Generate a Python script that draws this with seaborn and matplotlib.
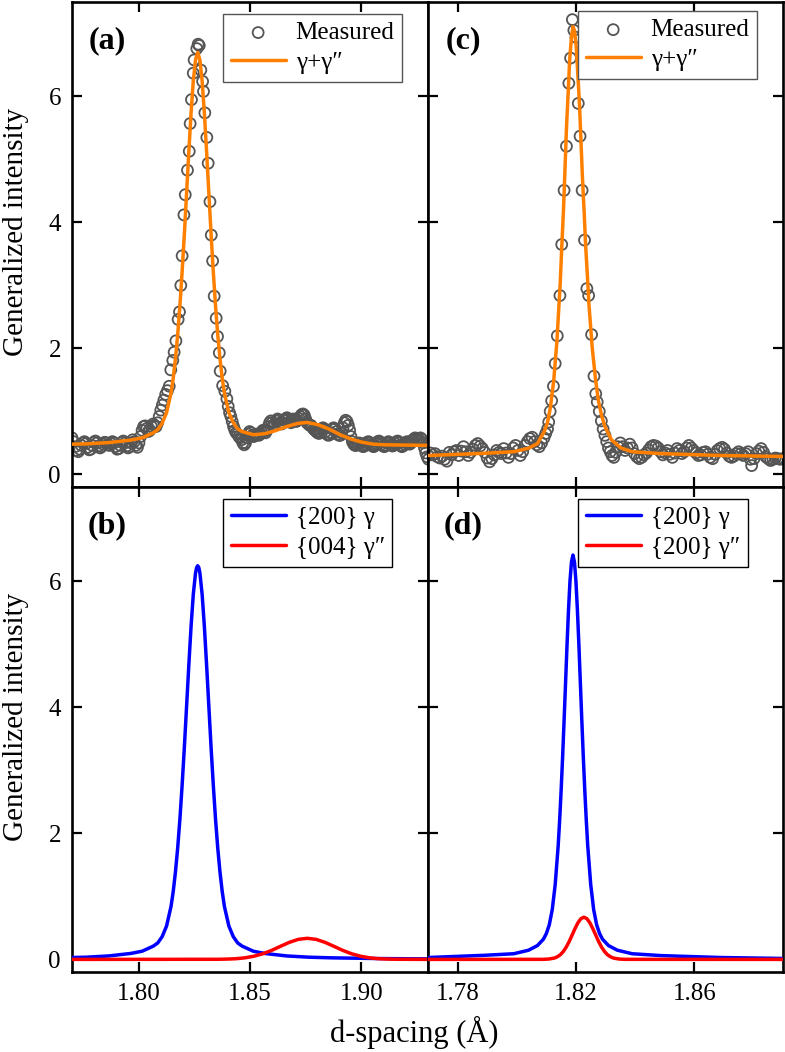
import matplotlib
matplotlib.use('Agg')
import matplotlib.pyplot as plt
import seaborn as sns
from matplotlib.ticker import FormatStrFormatter

# ---------------- data ----------------
# panel (a): measured points and gamma+gamma'' fit
a_meas_d = [1.7700, 1.7707, 1.7714, 1.7721, 1.7728, 1.7735, 1.7742, 1.7749, 1.7756, 1.7763,
            1.7770, 1.7777, 1.7784, 1.7791, 1.7798, 1.7805, 1.7812, 1.7819, 1.7826, 1.7833,
            1.7840, 1.7847, 1.7854, 1.7861, 1.7868, 1.7875, 1.7882, 1.7889, 1.7896, 1.7903,
            1.7910, 1.7917, 1.7924, 1.7931, 1.7938, 1.7945, 1.7952, 1.7959, 1.7966, 1.7973,
            1.7980, 1.7987, 1.7994,
            1.8001, 1.8008, 1.8015, 1.8022, 1.8029, 1.8036, 1.8043, 1.8050, 1.8057, 1.8064,
            1.8071, 1.8078, 1.8085, 1.8092, 1.8099, 1.8106, 1.8113, 1.8121, 1.8129, 1.8137,
            1.8144, 1.8153, 1.8159, 1.8167, 1.8177, 1.8183, 1.8189, 1.8195, 1.8203, 1.8209,
            1.8219, 1.8227, 1.8231, 1.8237, 1.8245, 1.8249, 1.8261, 1.8267, 1.8272, 1.8279,
            1.8287, 1.8291, 1.8297, 1.8306, 1.8312, 1.8320, 1.8326, 1.8332, 1.8339, 1.8348,
            1.8354, 1.8362, 1.8366, 1.8377, 1.8387, 1.8396,
            1.8402, 1.8408, 1.8414, 1.8420, 1.8426, 1.8432, 1.8438, 1.8444, 1.8450, 1.8456,
            1.8462, 1.8468, 1.8474, 1.8480, 1.8486, 1.8492, 1.8498, 1.8504, 1.8510, 1.8516,
            1.8522, 1.8528, 1.8534, 1.8540, 1.8546, 1.8552, 1.8558, 1.8564, 1.8570, 1.8576,
            1.8582, 1.8588, 1.8594, 1.8600, 1.8606, 1.8612, 1.8618, 1.8624, 1.8630, 1.8636,
            1.8642, 1.8648, 1.8654, 1.8660, 1.8666, 1.8672, 1.8678, 1.8684, 1.8690, 1.8696,
            1.8702, 1.8708, 1.8714, 1.8720, 1.8726, 1.8732, 1.8738, 1.8744, 1.8750, 1.8756,
            1.8762, 1.8768, 1.8774, 1.8780, 1.8786, 1.8792, 1.8798, 1.8804, 1.8810, 1.8816,
            1.8822, 1.8828, 1.8834, 1.8840, 1.8846, 1.8852, 1.8858, 1.8864, 1.8870, 1.8876,
            1.8882, 1.8888, 1.8894, 1.8900, 1.8906, 1.8912, 1.8918, 1.8924, 1.8930, 1.8936,
            1.8942, 1.8948, 1.8954, 1.8960, 1.8966, 1.8972, 1.8978, 1.8984, 1.8990, 1.8996,
            1.9002, 1.9008, 1.9014, 1.9020, 1.9026, 1.9032, 1.9038, 1.9044, 1.9050, 1.9056,
            1.9062, 1.9068, 1.9074, 1.9080, 1.9086, 1.9092, 1.9098, 1.9104, 1.9110, 1.9116,
            1.9122, 1.9128, 1.9134, 1.9140, 1.9146, 1.9152, 1.9158, 1.9164, 1.9170, 1.9176,
            1.9182, 1.9188, 1.9194, 1.9200, 1.9206, 1.9212, 1.9218, 1.9224, 1.9230, 1.9236,
            1.9242, 1.9248, 1.9254, 1.9260, 1.9266, 1.9272, 1.9278, 1.9284, 1.9290, 1.9296,
            1.9302]
a_meas_i = [0.58, 0.52, 0.44, 0.38, 0.36, 0.40, 0.46, 0.50, 0.52, 0.49,
            0.43, 0.39, 0.40, 0.46, 0.51, 0.53, 0.50, 0.45, 0.42, 0.44,
            0.48, 0.51, 0.50, 0.47, 0.46, 0.49, 0.52, 0.50, 0.44, 0.40,
            0.41, 0.46, 0.51, 0.53, 0.50, 0.45, 0.42, 0.44, 0.50, 0.55,
            0.52, 0.46, 0.43,
            0.50, 0.60, 0.70, 0.76, 0.77, 0.73, 0.68, 0.70, 0.76, 0.80,
            0.78, 0.76, 0.82, 0.92, 1.02, 1.10, 1.18, 1.27, 1.33, 1.40,
            1.66, 1.81, 1.94, 2.12, 2.46, 2.58, 3.00, 3.47, 4.12, 4.44,
            4.83, 5.13, 5.57, 5.95, 6.37, 6.58, 6.76, 6.83, 6.81, 6.42,
            6.24, 6.08, 5.74, 5.35, 4.94, 4.33, 3.80, 3.39, 2.83, 2.48,
            2.19, 1.93, 1.64, 1.41, 1.32, 1.20,
            1.08, 0.98, 0.92, 0.84, 0.76, 0.70, 0.66, 0.64, 0.60, 0.58,
            0.55, 0.50, 0.47, 0.50, 0.58, 0.64, 0.68, 0.66, 0.62, 0.60,
            0.62, 0.64, 0.63, 0.62, 0.64, 0.67, 0.70, 0.68, 0.66, 0.70,
            0.76, 0.82, 0.85, 0.82, 0.78, 0.80, 0.85, 0.88, 0.86, 0.82,
            0.80, 0.82, 0.86, 0.88, 0.90, 0.88, 0.84, 0.82, 0.84, 0.88,
            0.86, 0.84, 0.86, 0.89, 0.92, 0.95, 0.96, 0.94, 0.88, 0.82,
            0.80, 0.78, 0.78, 0.75, 0.72, 0.70, 0.68, 0.66, 0.65, 0.68,
            0.72, 0.74, 0.72, 0.68, 0.64, 0.62, 0.63, 0.66, 0.72, 0.74,
            0.72, 0.68, 0.64, 0.62, 0.62, 0.66, 0.74, 0.82, 0.86, 0.84,
            0.78, 0.70, 0.60, 0.52, 0.48, 0.46, 0.46, 0.48, 0.50, 0.49,
            0.46, 0.44, 0.45, 0.48, 0.51, 0.52, 0.50, 0.47, 0.45, 0.44,
            0.46, 0.49, 0.52, 0.53, 0.51, 0.48, 0.45, 0.44, 0.46, 0.50,
            0.52, 0.50, 0.47, 0.45, 0.46, 0.49, 0.52, 0.53, 0.50, 0.46,
            0.44, 0.45, 0.48, 0.51, 0.52, 0.50, 0.48, 0.50, 0.54, 0.56,
            0.58, 0.56, 0.54, 0.55, 0.58, 0.56, 0.50, 0.42, 0.34, 0.28,
            0.24]

a_fit_d = [1.7700, 1.7765, 1.7865, 1.7965, 1.8015, 1.8065, 1.8085, 1.8105, 1.8125, 1.8145,
           1.8155, 1.8165, 1.8175, 1.8185, 1.8195, 1.8205, 1.8215, 1.8225, 1.8235, 1.8245,
           1.8255, 1.8265, 1.8275, 1.8285, 1.8295, 1.8305, 1.8315, 1.8325, 1.8335, 1.8345,
           1.8355, 1.8365, 1.8375, 1.8385, 1.8405, 1.8425, 1.8445, 1.8465, 1.8515, 1.8565,
           1.8615, 1.8665, 1.8715, 1.8757, 1.8805, 1.8855, 1.8905, 1.8955, 1.9005, 1.9055,
           1.9105, 1.9305]
a_fit_i = [0.48, 0.485, 0.505, 0.545, 0.58, 0.66, 0.71, 0.81, 0.98, 1.29,
           1.53, 1.84, 2.22, 2.68, 3.22, 3.82, 4.47, 5.12, 5.73, 6.24,
           6.58, 6.70, 6.58, 6.24, 5.73, 5.12, 4.47, 3.82, 3.22, 2.68,
           2.22, 1.84, 1.53, 1.29, 0.98, 0.82, 0.72, 0.68, 0.63, 0.645,
           0.695, 0.76, 0.81, 0.825, 0.79, 0.72, 0.63, 0.56, 0.51, 0.48,
           0.47, 0.46]

# panel (b): {200} gamma and {004} gamma'' components
b_gam_d = [1.7700, 1.7765, 1.7865, 1.7965, 1.8015, 1.8065, 1.8085, 1.8105, 1.8125, 1.8145,
           1.8155, 1.8165, 1.8175, 1.8185, 1.8195, 1.8205, 1.8215, 1.8225, 1.8235, 1.8245,
           1.8255, 1.8260, 1.8265, 1.8270, 1.8275, 1.8285, 1.8295, 1.8305, 1.8315, 1.8325,
           1.8335, 1.8345, 1.8355, 1.8365, 1.8375, 1.8385, 1.8405, 1.8425, 1.8445, 1.8465,
           1.8515, 1.8565, 1.8665, 1.8765, 1.8865, 1.9065, 1.9305]
b_gam_i = [0.03, 0.035, 0.055, 0.095, 0.13, 0.21, 0.26, 0.36, 0.53, 0.84,
           1.08, 1.39, 1.77, 2.23, 2.77, 3.37, 4.02, 4.67, 5.28, 5.79,
           6.13, 6.22, 6.25, 6.22, 6.13, 5.79, 5.28, 4.67, 4.02, 3.37,
           2.77, 2.23, 1.77, 1.39, 1.08, 0.84, 0.53, 0.36, 0.26, 0.21,
           0.13, 0.095, 0.055, 0.035, 0.025, 0.014, 0.008]
b_gpp_d = [1.7700, 1.8357, 1.8397, 1.8437, 1.8477, 1.8517, 1.8557, 1.8597, 1.8637, 1.8677,
           1.8717, 1.8757, 1.8797, 1.8837, 1.8877, 1.8917, 1.8957, 1.8997, 1.9037, 1.9077,
           1.9117, 1.9157, 1.9305]
b_gpp_i = [0.0, 0.002, 0.005, 0.011, 0.025, 0.050, 0.089, 0.143, 0.208, 0.271,
           0.318, 0.335, 0.318, 0.271, 0.208, 0.143, 0.089, 0.050, 0.025, 0.011,
           0.005, 0.002, 0.0]

# panel (c): measured points and gamma+gamma'' fit
c_meas_d = [1.7700, 1.7708, 1.7716, 1.7724, 1.7732, 1.7740, 1.7748, 1.7756, 1.7764, 1.7772,
            1.7780, 1.7788, 1.7796, 1.7804, 1.7812, 1.7820, 1.7828, 1.7836, 1.7844, 1.7852,
            1.7860, 1.7868, 1.7876, 1.7884, 1.7892, 1.7900, 1.7908, 1.7916, 1.7924, 1.7932,
            1.7940, 1.7948, 1.7956, 1.7964, 1.7972, 1.7980, 1.7988, 1.7996, 1.8004, 1.8012,
            1.8020, 1.8028, 1.8036, 1.8044, 1.8052, 1.8060, 1.8068, 1.8076, 1.8084, 1.8092,
            1.8098, 1.8104, 1.8108,
            1.8113, 1.8118, 1.8124, 1.8130, 1.8137, 1.8146, 1.8152, 1.8160, 1.8168, 1.8176,
            1.8182, 1.8188, 1.8193, 1.8200, 1.8208, 1.8214, 1.8221, 1.8229, 1.8237, 1.8243,
            1.8253, 1.8261, 1.8267, 1.8272, 1.8279,
            1.8286, 1.8292, 1.8298, 1.8304, 1.8310, 1.8316, 1.8322, 1.8328, 1.8334, 1.8342,
            1.8350, 1.8358, 1.8366, 1.8374, 1.8382, 1.8390, 1.8398, 1.8406, 1.8414, 1.8422,
            1.8430, 1.8438, 1.8446, 1.8454, 1.8462, 1.8470, 1.8478, 1.8486, 1.8494, 1.8502,
            1.8510, 1.8518, 1.8526, 1.8534, 1.8542, 1.8550, 1.8558, 1.8566, 1.8574, 1.8582,
            1.8590, 1.8598, 1.8606, 1.8614, 1.8622, 1.8630, 1.8638, 1.8646, 1.8654, 1.8662,
            1.8670, 1.8678, 1.8686, 1.8694, 1.8702, 1.8710, 1.8718, 1.8726, 1.8734, 1.8742,
            1.8750, 1.8758, 1.8766, 1.8774, 1.8782, 1.8790, 1.8794, 1.8802, 1.8810, 1.8818,
            1.8826, 1.8834, 1.8842, 1.8850, 1.8858, 1.8866, 1.8874, 1.8882, 1.8890, 1.8898]
c_meas_i = [0.30, 0.34, 0.31, 0.33, 0.28, 0.26, 0.29, 0.24, 0.21, 0.35,
            0.31, 0.36, 0.38, 0.30, 0.37, 0.44, 0.36, 0.30, 0.35, 0.40,
            0.46, 0.49, 0.45, 0.41, 0.35, 0.26, 0.20, 0.25, 0.31, 0.38,
            0.35, 0.33, 0.41, 0.34, 0.27, 0.33, 0.42, 0.46, 0.38, 0.30,
            0.36, 0.46, 0.52, 0.57, 0.59, 0.52, 0.47, 0.44, 0.50, 0.58,
            0.65, 0.72, 0.83,
            1.00, 1.17, 1.40, 1.76, 2.20, 2.84, 3.65, 4.51, 5.21, 6.21,
            6.61, 7.22, 7.05, 6.94, 5.89, 5.37, 4.51, 3.72, 2.95, 2.84,
            2.22, 1.56, 1.28, 1.15, 1.00,
            0.85, 0.72, 0.62, 0.52, 0.42, 0.36, 0.30, 0.27, 0.35, 0.44,
            0.50, 0.44, 0.38, 0.42, 0.48, 0.42, 0.33, 0.28, 0.25, 0.27,
            0.31, 0.34, 0.39, 0.44, 0.46, 0.45, 0.42, 0.36, 0.31, 0.34,
            0.38, 0.32, 0.27, 0.34, 0.41, 0.38, 0.33, 0.36, 0.42, 0.46,
            0.42, 0.38, 0.34, 0.30, 0.31, 0.35, 0.36, 0.32, 0.27, 0.25,
            0.32, 0.38, 0.41, 0.43, 0.40, 0.34, 0.29, 0.27, 0.29, 0.33,
            0.36, 0.33, 0.30, 0.33, 0.36, 0.24, 0.14, 0.25, 0.33, 0.37,
            0.41, 0.35, 0.28, 0.25, 0.22, 0.24, 0.26, 0.25, 0.24, 0.25]

c_fit_d = [1.7700, 1.7890, 1.7990, 1.8040, 1.8070, 1.8082, 1.8093, 1.8104, 1.8114, 1.8125,
           1.8136, 1.8141, 1.8147, 1.8152, 1.8158, 1.8163, 1.8168, 1.8174, 1.8179, 1.8185,
           1.8190, 1.8195, 1.8201, 1.8206, 1.8212, 1.8217, 1.8222, 1.8228, 1.8233, 1.8239,
           1.8244, 1.8255, 1.8266, 1.8276, 1.8287, 1.8298, 1.8320, 1.8352, 1.8390, 1.8490,
           1.8690, 1.8900]
c_fit_i = [0.30, 0.335, 0.36, 0.416, 0.49, 0.59, 0.68, 0.825, 1.07, 1.49,
           2.13, 2.55, 3.04, 3.59, 4.20, 4.84, 5.49, 6.08, 6.59, 6.94,
           7.11, 7.05, 6.80, 6.39, 5.88, 5.30, 4.72, 4.15, 3.62, 3.14,
           2.70, 2.02, 1.52, 1.17, 0.93, 0.76, 0.55, 0.42, 0.36, 0.33,
           0.30, 0.285]

# panel (d): {200} gamma and {200} gamma'' components
d_gam_d = [1.7700, 1.7890, 1.7990, 1.8040, 1.8070, 1.8090, 1.8100, 1.8110, 1.8120, 1.8130,
           1.8140, 1.8145, 1.8150, 1.8155, 1.8160, 1.8165, 1.8170, 1.8175, 1.8180, 1.8185,
           1.8190, 1.8195, 1.8200, 1.8205, 1.8210, 1.8215, 1.8220, 1.8225, 1.8230, 1.8235,
           1.8240, 1.8250, 1.8260, 1.8270, 1.8280, 1.8290, 1.8310, 1.8340, 1.8390, 1.8490,
           1.8690, 1.8900]
d_gam_i = [0.03, 0.065, 0.09, 0.146, 0.22, 0.32, 0.41, 0.55, 0.79, 1.19,
           1.80, 2.21, 2.68, 3.21, 3.79, 4.39, 5.00, 5.55, 6.01, 6.31,
           6.42, 6.31, 6.01, 5.55, 5.00, 4.39, 3.79, 3.21, 2.68, 2.21,
           1.80, 1.19, 0.79, 0.55, 0.41, 0.32, 0.22, 0.146, 0.09, 0.06,
           0.03, 0.015]
d_gpp_d = [1.7700, 1.8087, 1.8107, 1.8127, 1.8137, 1.8147, 1.8157, 1.8167, 1.8177, 1.8187,
           1.8197, 1.8207, 1.8217, 1.8227, 1.8237, 1.8247, 1.8257, 1.8267, 1.8277, 1.8287,
           1.8297, 1.8307, 1.8317, 1.8327, 1.8347, 1.8367, 1.8900]
d_gpp_i = [0.0, 0.001, 0.005, 0.021, 0.041, 0.073, 0.123, 0.193, 0.282, 0.385,
           0.49, 0.583, 0.647, 0.67, 0.647, 0.583, 0.49, 0.385, 0.282, 0.193,
           0.123, 0.073, 0.041, 0.021, 0.005, 0.001, 0.0]

left_xticks = [1.80, 1.85, 1.90]
right_xticks = [1.78, 1.82, 1.86]
y_ticks = [0, 2, 4, 6]
panel_tags = ['(a)', '(b)', '(c)', '(d)']
fit_label = 'γ+γ″'
meas_label = 'Measured'
b_labels = ['{200} γ', '{004} γ″']
d_labels = ['{200} γ', '{200} γ″']

# ---------------- style ----------------
sns.set_theme(style='ticks')
plt.rcParams['font.family'] = ['Liberation Serif', 'DejaVu Serif']
plt.rcParams['axes.unicode_minus'] = False

ORANGE = '#ff8000'
BLUE = '#0000ff'
RED = '#ff0000'
GREY = '#555555'

fig = plt.figure(figsize=(7.85, 10.52), dpi=100)
FW, FH = 785.0, 1052.0


def box(x0, y0, x1, y1):
    return [x0 / FW, 1 - y1 / FH, (x1 - x0) / FW, (y1 - y0) / FH]


ax_a = fig.add_axes(box(72, 2, 428, 487))
ax_c = fig.add_axes(box(428, 2, 783, 487))
ax_b = fig.add_axes(box(72, 487, 428, 972))
ax_d = fig.add_axes(box(428, 487, 783, 972))


def measured(ax, d, i):
    sns.scatterplot(x=d, y=i, ax=ax, marker='o', s=62, linewidth=1.3,
                    edgecolor=GREY, label=meas_label, zorder=2)
    ax.collections[-1].set_facecolor('none')
    ax.collections[-1].set_edgecolor(GREY)


def curve(ax, d, i, color, label):
    sns.lineplot(x=d, y=i, ax=ax, color=color, linewidth=2.5, sort=False,
                 estimator=None, label=label, zorder=3)


measured(ax_a, a_meas_d, a_meas_i)
curve(ax_a, a_fit_d, a_fit_i, ORANGE, fit_label)
measured(ax_c, c_meas_d, c_meas_i)
curve(ax_c, c_fit_d, c_fit_i, ORANGE, fit_label)
curve(ax_b, b_gam_d, b_gam_i, BLUE, b_labels[0])
curve(ax_b, b_gpp_d, b_gpp_i, RED, b_labels[1])
curve(ax_d, d_gam_d, d_gam_i, BLUE, d_labels[0])
curve(ax_d, d_gpp_d, d_gpp_i, RED, d_labels[1])


def style(ax, xlim, xticks, showx, showy):
    ax.set_xlim(*xlim)
    ax.set_ylim(-0.2, 7.5)
    ax.set_xticks(xticks)
    ax.set_yticks(y_ticks)
    ax.xaxis.set_major_formatter(FormatStrFormatter('%.2f'))
    ax.tick_params(direction='in', length=7, width=1.6, top=True, right=True,
                   labelsize=18, pad=8, color='black', labelcolor='black',
                   labelbottom=showx, labelleft=showy)
    for s in ax.spines.values():
        s.set_linewidth(1.9)
        s.set_color('black')
    ax.set_xlabel('')
    ax.set_ylabel('')


style(ax_a, (1.77, 1.93), left_xticks, False, True)
style(ax_b, (1.77, 1.93), left_xticks, True, True)
style(ax_c, (1.77, 1.89), right_xticks, False, False)
style(ax_d, (1.77, 1.89), right_xticks, True, False)

for ax in (ax_a, ax_b):
    ax.set_ylabel('Generalized intensity', fontsize=21, color='black')
    ax.yaxis.set_label_coords(-0.122, 0.526)

for ax, tag in zip((ax_a, ax_b, ax_c, ax_d), panel_tags):
    ax.text(0.10, 0.92, tag, transform=ax.transAxes, fontsize=23,
            fontweight='bold', ha='center', va='center', color='black')


def legend(ax, anchor, edge):
    leg = ax.legend(loc='upper right', bbox_to_anchor=anchor, fontsize=18,
                    frameon=True, fancybox=False, edgecolor=edge, framealpha=1,
                    borderpad=0.3, labelspacing=0.3, handlelength=2.2,
                    handletextpad=0.4, borderaxespad=0, scatterpoints=1)
    leg.get_frame().set_linewidth(1.0)
    for t in leg.get_texts():
        t.set_color('black')


legend(ax_a, (0.927, 0.975), '#555555')
legend(ax_c, (0.927, 0.981), '#555555')
legend(ax_b, (0.90, 0.975), 'black')
legend(ax_d, (0.90, 0.975), 'black')

fig.text(0.528, 0.019, 'd-spacing (Å)', ha='center', va='center',
         fontsize=22, color='black')

fig.savefig('out.png', dpi=100, facecolor='white')
